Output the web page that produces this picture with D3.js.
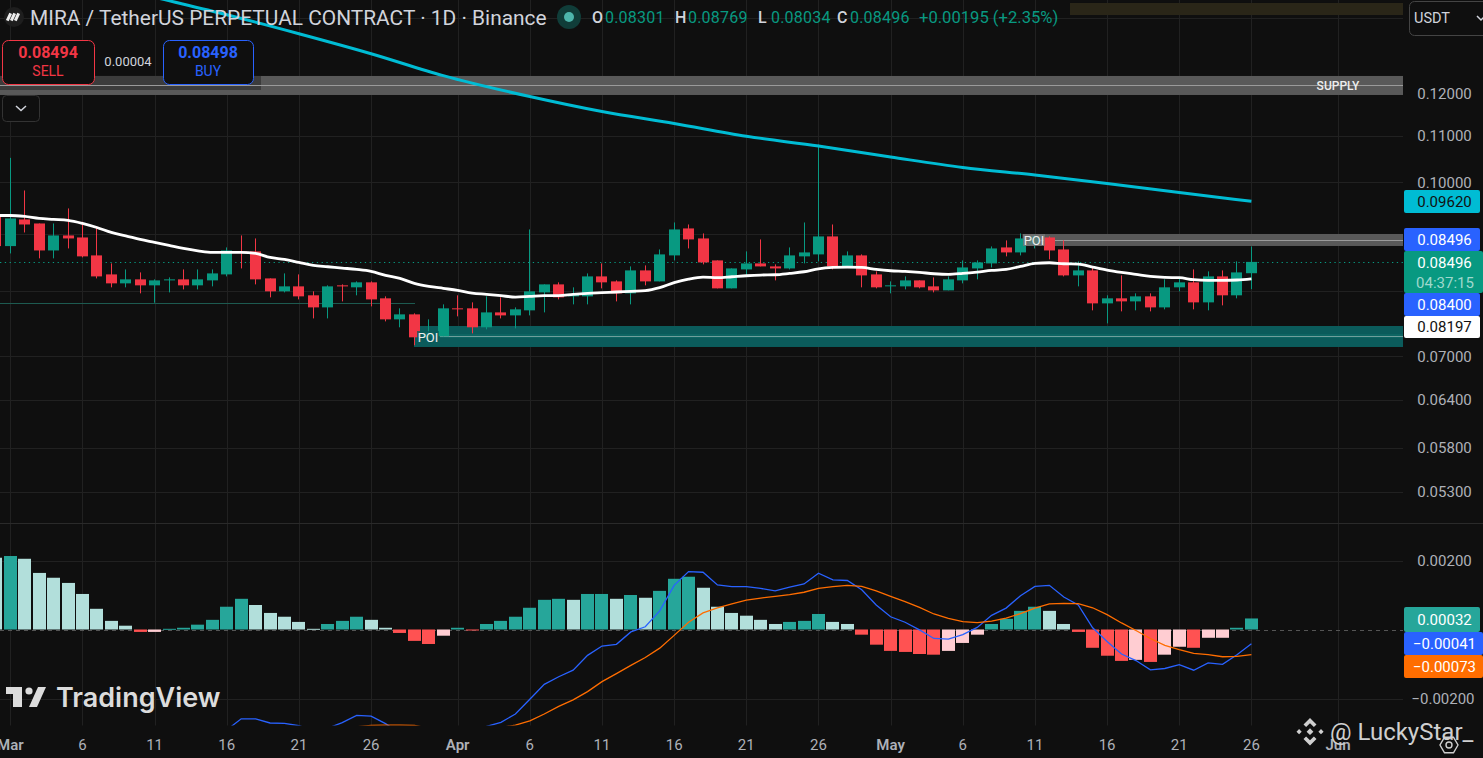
<!DOCTYPE html>
<html><head><meta charset="utf-8">
<script src="https://cdn.jsdelivr.net/npm/d3@7"></script>
<style>html,body{margin:0;padding:0;background:#0f0f0f;overflow:hidden}svg{display:block}text{font-family:Roboto,sans-serif}</style>
</head><body><svg id="c" width="1483" height="758"></svg>
<script>
const firstDay=-1;
const opens=[.09345,.08776,.09269,.09193,.08698,.08970,.08933,.08610,.08281,.08130,.08197,.08097,.08180,.08197,.08097,.08180,.08281,.08681,.08681,.08213,.07998,.08080,.07933,.07739,.08097,.08064,.08147,.07884,.07551,.07629,.07288,.07293,.07724,.07724,.07429,.07660,.07613,.07692,.07981,.08113,.07916,.07916,.08247,.08163,.07965,.08349,.08163,.08610,.09100,.08915,.08522,.08047,.08366,.08470,.08418,.08383,.08593,.08628,.08952,.08418,.08610,.08281,.08086,.08080,.08180,.08080,.08014,.08180,.08383,.08470,.08752,.08663,.08806,.08933,.08716,.08264,.08349,.07803,.07884,.07835,.07916,.07739,.08064,.08147,.07819,.08247,.07933,.08301];
const closes=[.08776,.09288,.09174,.08698,.08970,.08915,.08593,.08247,.08130,.08197,.08097,.08180,.08197,.08097,.08197,.08298,.08698,.08663,.08197,.07998,.08080,.07916,.07739,.08080,.08080,.08147,.07867,.07551,.07629,.07278,.07348,.07724,.07708,.07429,.07660,.07613,.07708,.07998,.08113,.07900,.07938,.08247,.08147,.07965,.08349,.08163,.08628,.09081,.08897,.08487,.08047,.08383,.08470,.08418,.08383,.08610,.08663,.08952,.08418,.08610,.08264,.08064,.08097,.08180,.08064,.08014,.08197,.08400,.08487,.08734,.08663,.08915,.08958,.08698,.08264,.08349,.07803,.07884,.07835,.07916,.07739,.08064,.08147,.07819,.08247,.07933,.08315,.08496];
const highs=[.09400,.10518,.09837,.09193,.09193,.09481,.09225,.09118,.08470,.08366,.08315,.08197,.08230,.08366,.08366,.08366,.08752,.08970,.08915,.08213,.08298,.08281,.07998,.08097,.08113,.08163,.08163,.07916,.07724,.07645,.07551,.07787,.07933,.07819,.07916,.07900,.07739,.09081,.08113,.08147,.08064,.08298,.08470,.08180,.08418,.08435,.08716,.09212,.09174,.09007,.08522,.08383,.08681,.08897,.08453,.08752,.09212,.10810,.09174,.08681,.08628,.08332,.08163,.08247,.08180,.08230,.08247,.08522,.08522,.08770,.08879,.09007,.08988,.08952,.08879,.08505,.08400,.07933,.08264,.07965,.07965,.08197,.08230,.08366,.08332,.08349,.08505,.08769];
const lows=[.08776,.08645,.09025,.08558,.08558,.08734,.08575,.08213,.08064,.08064,.07965,.07813,.07981,.08030,.08030,.08080,.08247,.08383,.08113,.07900,.07981,.07867,.07566,.07566,.07835,.07933,.07755,.07520,.07429,.07160,.07199,.07293,.07598,.07337,.07398,.07566,.07413,.07613,.07660,.07867,.07787,.07787,.08047,.07835,.07787,.08097,.08163,.08522,.08734,.08453,.08047,.08047,.08264,.08418,.08180,.08366,.08470,.08505,.08366,.08418,.08064,.08047,.07965,.08030,.08047,.07981,.08014,.08130,.08197,.08400,.08593,.08610,.08734,.08540,.08247,.08080,.07692,.07489,.07676,.07692,.07676,.07708,.07998,.07708,.07692,.07771,.07884,.08034];
const maValues=[.09345,.09345,.09326,.09288,.09269,.09250,.09193,.09118,.09025,.08964,.08897,.08843,.08788,.08734,.08692,.08663,.08663,.08663,.08645,.08575,.08540,.08487,.08435,.08412,.08389,.08366,.08332,.08264,.08213,.08130,.08080,.08047,.08014,.07970,.07949,.07927,.07905,.07916,.07927,.07927,.07949,.07965,.07976,.07987,.07998,.08009,.08058,.08141,.08202,.08236,.08225,.08241,.08258,.08270,.08275,.08298,.08326,.08377,.08400,.08406,.08400,.08366,.08343,.08332,.08315,.08292,.08281,.08298,.08321,.08349,.08366,.08418,.08470,.08481,.08464,.08459,.08406,.08355,.08315,.08281,.08247,.08230,.08225,.08191,.08180,.08180,.08186,.08205];
const longMaDays=[9,10,15,20,25,30,36,41,46,51,56,61,66,71,76,81,86];
const longMaValues=[.14729,.14623,.14108,.13569,.13024,.12451,.11927,.11565,.11285,.10994,.10776,.10536,.10312,.10154,.09979,.09797,.09620];
const histValues=[.00208,.00213,.00205,.00164,.00150,.00135,.00103,.00060,.00025,.00011,-.00007,-.00007,.00002,.00005,.00014,.00028,.00066,.00089,.00071,.00048,.00037,.00022,.00002,.00016,.00025,.00037,.00028,.00005,-.00010,-.00033,-.00042,-.00018,.00005,-.00002,.00016,.00025,.00037,.00063,.00086,.00089,.00086,.00103,.00103,.00089,.00100,.00092,.00112,.00147,.00153,.00121,.00066,.00048,.00040,.00028,.00016,.00022,.00025,.00045,.00022,.00016,-.00015,-.00044,-.00062,-.00065,-.00071,-.00073,-.00062,-.00039,-.00015,.00016,.00031,.00054,.00066,.00054,.00016,-.00007,-.00053,-.00076,-.00091,-.00088,-.00094,-.00073,-.00050,-.00053,-.00024,-.00024,.00005,.00032];
const macdFirstDay=14;
const macdValues=[-.00320,-.00291,-.00259,-.00259,-.00271,-.00272,-.00279,-.00291,-.00286,-.00270,-.00249,-.00251,-.00273,-.00300,-.00320,-.00339,-.00339,-.00320,-.00300,-.00281,-.00269,-.00245,-.00202,-.00159,-.00137,-.00118,-.00075,-.00048,-.00043,-.00007,.00008,.00054,.00128,.00168,.00166,.00129,.00124,.00124,.00119,.00112,.00123,.00132,.00163,.00144,.00142,.00115,.00071,.00037,.00021,-.00001,-.00026,-.00028,-.00015,.00006,.00041,.00062,.00098,.00125,.00128,.00094,.00071,.00005,-.00035,-.00071,-.00090,-.00117,-.00113,-.00102,-.00118,-.00097,-.00101,-.00073,-.00041];
const signalFirstDay=20;
const signalValues=[-.00310,-.00300,-.00293,-.00287,-.00282,-.00278,-.00277,-.00277,-.00278,-.00286,-.00294,-.00298,-.00298,-.00292,-.00284,-.00277,-.00265,-.00245,-.00223,-.00204,-.00180,-.00151,-.00128,-.00104,-.00081,-.00054,-.00017,.00021,.00048,.00063,.00074,.00085,.00091,.00096,.00101,.00108,.00119,.00124,.00128,.00125,.00112,.00096,.00081,.00064,.00045,.00032,.00023,.00020,.00024,.00033,.00046,.00062,.00074,.00076,.00075,.00063,.00043,.00019,-.00003,-.00026,-.00046,-.00058,-.00069,-.00073,-.00079,-.00078,-.00073];
const priceGrid=[.14,.12,.11,.10,.09,.08,.07,.064,.058,.053];
const priceLabels=[.12,.11,.10,.07,.064,.058,.053];
const macdTicks=[.002,-.002];
const timeDays=[0,5,10,15,20,25,31,36,41,46,51,56,61,66,71,76,81,86,92];
const timeLabels=["Mar","6","11","16","21","26","Apr","6","11","16","21","26","May","6","11","16","21","26","Jun"];
const monthLabels=["Mar","Apr","May","Jun"];
const supplyZone=[.12442,.11966,.12206];
const supplyOlderZone=[.12442,.12089];
const topZone=[.14452,.14100];
const upperPoi=[.08997,.08778,.08890];
const lowerPoi=[.07449,.07135,.07298];
const lowerPoiCore=[.07328,.07268];
const oldLevel=.07813;
const lastPrice=.08496;
const ohlc=[["O","0.08301",592],["H","0.08769",675],["L","0.08034",758],["C","0.08496",837]];

const W=1403,mainBottom=523,macdBottom=725.5;
const svg=d3.select("#c");
const x=d3.scaleLinear().domain([0,92]).range([10.3,1338]);
const y=d3.scaleLog().domain([.12,.07]).range([93.6,356.3]);
const m=d3.scaleLinear().domain([.002,-.002]).range([560.5,698.5]);
const UP="#089981",DN="#f23645",GRID="#212121",BG="#0f0f0f";
const defs=svg.append("defs");
defs.append("clipPath").attr("id","mp").append("rect").attr("width",W).attr("height",mainBottom);
defs.append("clipPath").attr("id","np").append("rect").attr("y",mainBottom).attr("width",W).attr("height",macdBottom-mainBottom);
svg.append("rect").attr("width",1483).attr("height",758).attr("fill",BG);
const crisp=v=>Math.round(v)+.5;
const txt=(g,s,px,py,o={})=>g.append("text").text(s).attr("x",px).attr("y",py).attr("dy",".35em")
  .attr("font-size",o.size||14).attr("fill",o.fill||"#d1d4dc").attr("text-anchor",o.anchor||"start")
  .attr("font-weight",o.weight||400).style("font-family",o.font||null).style("letter-spacing",o.ls||null);

// grid
const grid=svg.append("g").attr("stroke",GRID).attr("stroke-width",1);
grid.selectAll(".v").data(timeDays).join("line").attr("x1",d=>crisp(x(d))).attr("x2",d=>crisp(x(d))).attr("y1",0).attr("y2",macdBottom);
grid.selectAll(".h").data(priceGrid).join("line").attr("x1",0).attr("x2",W).attr("y1",d=>crisp(y(d))).attr("y2",d=>crisp(y(d)));
grid.selectAll(".m").data(macdTicks).join("line").attr("x1",0).attr("x2",W).attr("y1",d=>crisp(m(d))).attr("y2",d=>crisp(m(d)));
svg.append("line").attr("x1",0).attr("x2",1483).attr("y1",crisp(mainBottom)).attr("y2",crisp(mainBottom)).attr("stroke","#2a2a2a");

// zones
const main=svg.append("g").attr("clip-path","url(#mp)");
const zone=(x0,x1,hi,lo,fill,op=1)=>main.append("rect").attr("x",x0).attr("width",x1-x0).attr("y",y(hi)).attr("height",y(lo)-y(hi)).attr("fill",fill).attr("opacity",op);
zone(1070,W,topZone[0],topZone[1],"#2a2618");
zone(0,W,supplyZone[0],supplyZone[1],"#595959");
zone(0,261,supplyOlderZone[0],supplyOlderZone[1],"#3c3c3c");
zone(x(70)+2,W,upperPoi[0],upperPoi[1],"#595959");
zone(414,W,lowerPoi[0],lowerPoi[1],"#0b5b5b");
zone(440,W,lowerPoiCore[0],lowerPoiCore[1],"#0e6563");
const mid=(x0,v,c)=>main.append("line").attr("x1",x0).attr("x2",W).attr("y1",crisp(y(v))).attr("y2",crisp(y(v))).attr("stroke",c);
mid(0,supplyZone[2],"#9a9a9a");mid(x(70)+2,upperPoi[2],"#9a9a9a");mid(440,lowerPoi[2],"#6f9f9c");
main.append("line").attr("x1",0).attr("x2",415).attr("y1",crisp(y(oldLevel))).attr("y2",crisp(y(oldLevel))).attr("stroke","#1d5a50");
main.append("line").attr("x1",0).attr("x2",W).attr("y1",crisp(y(lastPrice))).attr("y2",crisp(y(lastPrice))).attr("stroke",UP).attr("stroke-dasharray","1.3 3.5");

// candles
const days=opens.map((_,i)=>i+firstDay);
const candle=main.append("g");
candle.selectAll("line").data(days).join("line")
 .attr("x1",d=>crisp(x(d)-.5)).attr("x2",d=>crisp(x(d)-.5))
 .attr("y1",d=>y(highs[d-firstDay])).attr("y2",d=>y(lows[d-firstDay]))
 .attr("stroke",d=>closes[d-firstDay]>=opens[d-firstDay]?UP:DN).attr("stroke-width",1);
candle.selectAll("rect").data(days).join("rect")
 .attr("x",d=>Math.round(x(d)-5.5)).attr("width",11)
 .attr("y",d=>y(Math.max(opens[d-firstDay],closes[d-firstDay])))
 .attr("height",d=>Math.max(1,Math.abs(y(opens[d-firstDay])-y(closes[d-firstDay]))))
 .attr("fill",d=>closes[d-firstDay]>=opens[d-firstDay]?UP:DN);

// moving averages
const lineGen=(sc)=>d3.line().x(d=>x(d[0])).y(d=>sc(d[1])).curve(d3.curveMonotoneX);
main.append("path").attr("d",lineGen(y)(d3.zip(longMaDays,longMaValues))).attr("fill","none").attr("stroke","#00bcd4").attr("stroke-width",3);
main.append("path").attr("d",lineGen(y)(maValues.map((v,i)=>[i+firstDay,v]))).attr("fill","none").attr("stroke","#fff").attr("stroke-width",2.8);

// POI tags
const tag=(cx,cy,bg)=>{main.append("rect").attr("x",cx-11).attr("y",cy-6).attr("width",22).attr("height",12).attr("fill",bg).attr("opacity",.75);
 txt(main,"POI",cx,cy,{anchor:"middle",size:13,fill:"#eee"});};
tag(428,337,"#0b5b5b");tag(1034,240,"#777");
txt(main,"SUPPLY",1338,85.5,{anchor:"middle",size:12,fill:"#eee",weight:500});

// MACD pane
const macd=svg.append("g").attr("clip-path","url(#np)");
macd.append("line").attr("x1",0).attr("x2",W).attr("y1",crisp(m(0))).attr("y2",crisp(m(0))).attr("stroke","#555").attr("stroke-dasharray","4 4");
const histColor=(v,i)=>{const p=i?histValues[i-1]:Infinity;return v>=0?(v>=p?"#26a69a":"#b2dfdb"):(v>=p?"#ffcdd2":"#ff5252");};
macd.selectAll(".h").data(histValues).join("rect")
 .attr("x",(v,i)=>Math.round(x(i+firstDay)-6.5)).attr("width",13)
 .attr("y",v=>Math.min(m(v),m(0))).attr("height",v=>Math.max(1,Math.abs(m(v)-m(0))))
 .attr("fill",histColor);
macd.append("path").attr("d",lineGen(m).curve(d3.curveLinear)(macdValues.map((v,i)=>[i+macdFirstDay,v]))).attr("fill","none").attr("stroke","#2962ff").attr("stroke-width",1.3);
macd.append("path").attr("d",lineGen(m).curve(d3.curveLinear)(signalValues.map((v,i)=>[i+signalFirstDay,v]))).attr("fill","none").attr("stroke","#ff6d00").attr("stroke-width",1.3);

// axes text
const AX="#aeb1b8";
const yAxis=svg.append("g");
priceLabels.forEach(v=>txt(yAxis,d3.format(".5f")(v),1444.5,y(v),{anchor:"middle",size:15,fill:AX}));
macdTicks.forEach(v=>txt(yAxis,d3.format(".5f")(v).replace("-","\u2212"),v>0?1444.5:1443,m(v),{anchor:"middle",size:15,fill:AX}));
const xAxis=svg.append("g");
timeDays.forEach((d,i)=>{const l=timeLabels[i];txt(xAxis,l,x(d),745,{anchor:"middle",size:15,fill:AX,weight:monthLabels.includes(l)?600:400});});

// price tags
const label=(x1,y0,y1,fill,t,tc)=>{svg.append("rect").attr("x",1404).attr("y",y0).attr("width",x1-1404).attr("height",y1-y0).attr("fill",fill).attr("rx",2);
 if(t)txt(svg,t,1444.5,(y0+y1)/2,{anchor:"middle",size:15,fill:tc});};
label(1480,190,213,"#00bcd4","0.09620","#111");
label(1483,251,293,UP);
txt(svg,"0.08496",1444.5,263,{anchor:"middle",size:15,fill:"#fff"});
txt(svg,"04:37:15",1445,283,{anchor:"middle",size:15,fill:"#9fd8cd"});
label(1480,228,251,"#2962ff","0.08496","#fff");
label(1480,293,316,"#2962ff","0.08400","#fff");
label(1480,316,338,"#fff","0.08197","#111");
label(1480,607,632,"#26a69a","0.00032","#fff");
label(1483,632,655,"#2962ff","\u22120.00041","#fff");
label(1483,655,678,"#ff6d00","\u22120.00073","#fff");

// header
txt(svg,"MIRA / TetherUS PERPETUAL CONTRACT \u00b7 1D \u00b7 Binance",30,17.5,{size:20.9,fill:"#d1d4dc"});
svg.append("circle").attr("cx",14).attr("cy",17).attr("r",10).attr("fill","#1e1e1e");
[-4,0,4].forEach(o=>svg.append("rect").attr("x",11.5+o).attr("y",13).attr("width",3).attr("height",8).attr("fill","#eee").attr("transform",`rotate(25 ${13+o} 17)`));
svg.append("circle").attr("cx",569).attr("cy",17).attr("r",12).attr("fill","#103d39");
svg.append("circle").attr("cx",569).attr("cy",17).attr("r",5).attr("fill","#4db6ac");
ohlc.forEach(([k,v,px])=>{txt(svg,k,px,17.5,{size:16,fill:"#d1d4dc",weight:500});txt(svg,v,px+13,17.5,{size:16,fill:UP,ls:".2px"});});
txt(svg,"+0.00195 (+2.35%)",919,17.5,{size:16.6,fill:UP});

// buy/sell
const box=(x0,x1,c,v,l)=>{svg.append("rect").attr("x",x0+.5).attr("y",40.5).attr("width",x1-x0).attr("height",44).attr("rx",6).attr("fill",BG).attr("stroke",c);
 const cx=(x0+x1)/2;txt(svg,v,cx,52,{anchor:"middle",size:16,fill:c,weight:700});txt(svg,l,cx,71,{anchor:"middle",size:14,fill:c});};
box(2,94,"#f23645","0.08494","SELL");box(163,253,"#2962ff","0.08498","BUY");
txt(svg,"0.00004",128,61.5,{anchor:"middle",size:13,fill:"#d1d4dc"});
svg.append("rect").attr("x",2.5).attr("y",95.5).attr("width",37).attr("height",26).attr("rx",4).attr("fill",BG).attr("stroke","#333");
svg.append("path").attr("d","M16 106l5 4.5 5-4.5").attr("fill","none").attr("stroke","#d1d4dc").attr("stroke-width",1.5);
svg.append("rect").attr("x",1409.5).attr("y",1.5).attr("width",90).attr("height",34).attr("rx",5).attr("fill",BG).attr("stroke","#444");
txt(svg,"USDT",1414,18,{size:14.5,fill:"#d1d4dc"});
svg.append("path").attr("d","M1477 16l4 4 4-4").attr("fill","none").attr("stroke","#d1d4dc").attr("stroke-width",1.5);

// TradingView mark
const logo=svg.append("g").attr("fill","#dcdcdc");
logo.append("path").attr("d","M6 687H22V707H13V694H6Z");
logo.append("circle").attr("cx",29).attr("cy",691).attr("r",3.6);
logo.append("path").attr("d","M38 687H46L37 707H29Z");
txt(logo,"TradingView",56,697.5,{size:27,fill:"#dcdcdc",weight:600,font:"Inter"});

// watermark
const wm=svg.append("g").attr("fill","#cfcfcf");
wm.append("path").attr("d","M1310 718l6.500 6.500-2.600 2.600-3.900-3.900-3.900 3.900-2.600-2.600ZM1310 745.500l6.500-6.500-2.600-2.600-3.900 3.900-3.900-3.900-2.600 2.600ZM1296.500 731.700l2.600-2.600 2.600 2.600-2.600 2.600ZM1318.400 731.700l2.600-2.600 2.600 2.600-2.600 2.600ZM1310 728.300l3.400 3.400-3.400 3.400-3.400-3.400Z");
txt(wm,"@ LuckyStar_",1330,732,{size:24,fill:"#cfcfcf"});
const hexR=9;const hex=d3.range(6).map(i=>[1449+hexR*Math.cos(i*Math.PI/3),745+hexR*Math.sin(i*Math.PI/3)]);
svg.append("polygon").attr("points",hex.join(" ")).attr("fill","none").attr("stroke","#cfcfcf").attr("stroke-width",1.4);
svg.append("circle").attr("cx",1449).attr("cy",745).attr("r",3).attr("fill","none").attr("stroke","#cfcfcf").attr("stroke-width",1.4);
</script></body></html>
